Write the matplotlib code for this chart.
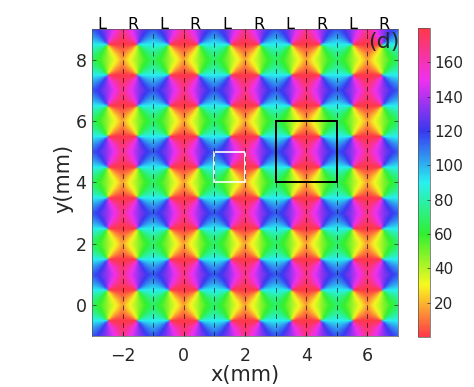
import numpy as np
import matplotlib
matplotlib.use("Agg")
import matplotlib.pyplot as plt
from matplotlib.colors import LinearSegmentedColormap, Normalize
from matplotlib.cm import ScalarMappable
from matplotlib.patches import Rectangle

# Orientation (deg) estimated over one 1 mm x 1 mm quadrant, top row to bottom row
# (y=5 down to y=4), left column to right column (x=3 to x=4), in 1/16 mm steps.
quadrant = [
    [114, 116, 118, 120, 123, 126, 129, 132, 135, 139, 143, 147, 151, 155, 160, 165, 169],
    [112, 114, 116, 118, 121, 124, 128, 131, 135, 139, 144, 148, 153, 157, 162, 166, 170],
    [110, 111, 113, 116, 119, 122, 126, 130, 135, 140, 145, 150, 155, 159, 164, 168, 171],
    [107, 108, 110, 113, 116, 120, 124, 129, 135, 141, 147, 152, 157, 162, 166, 169, 172],
    [104, 105, 107, 109, 112, 117, 122, 128, 135, 142, 149, 155, 160, 164, 168, 171, 173],
    [101, 102, 103, 105, 108, 112, 118, 126, 135, 145, 153, 160, 165, 168, 171, 173, 175],
    [ 97,  98,  99, 101, 103, 107, 112, 122, 135, 150, 160, 166, 170, 172, 174, 176, 177],
    [ 94,  94,  95,  96,  97,  99, 103, 112, 135, 160, 170, 174, 176, 177, 178, 178, 178],
    [ 90,  90,  90,  90,  90,  90,  90,  92, 100, 179, 179, 179, 179, 179, 179, 179, 179],
    [ 86,  86,  85,  84,  83,  81,  77,  68,  45,  22,  11,   7,   5,   4,   3,   3,   3],
    [ 83,  82,  81,  79,  77,  73,  68,  58,  45,  32,  22,  15,  11,   9,   7,   6,   5],
    [ 80,  78,  77,  75,  72,  68,  62,  54,  45,  36,  28,  21,  16,  13,  11,   9,   7],
    [ 77,  75,  73,  71,  68,  63,  58,  52,  45,  38,  32,  26,  21,  17,  14,  11,   9],
    [ 74,  72,  70,  68,  64,  60,  56,  51,  45,  39,  34,  29,  25,  21,  17,  14,  11],
    [ 72,  70,  68,  65,  62,  58,  54,  50,  45,  40,  36,  32,  28,  24,  20,  16,  13],
    [ 70,  68,  66,  63,  60,  57,  53,  49,  45,  41,  37,  34,  30,  26,  22,  18,  15],
    [ 69,  67,  64,  61,  58,  55,  52,  49,  45,  41,  38,  35,  32,  28,  24,  20,  17],
]
x_ticks = [-2, 0, 2, 4, 6]
y_ticks = [0, 2, 4, 6, 8]
cbar_ticks = [20, 40, 60, 80, 100, 120, 140, 160]
dash_x = [-2, -1, 0, 1, 2, 3, 4, 5, 6]
top_labels = ["L", "R", "L", "R", "L", "R", "L", "R", "L", "R"]
top_label_x = [-2.67, -1.66, -0.65, 0.38, 1.4, 2.44, 3.48, 4.5, 5.53, 6.53]
hue_stops = ["#ff3848", "#f8f820", "#30f030", "#28f0f0", "#3838f0", "#f030f0", "#ff3848"]

W, H = 474, 387
cmap = LinearSegmentedColormap.from_list("hue", hue_stops, N=256)
norm = Normalize(0, 180)
dark = "#262626"

field = np.pad(np.array(quadrant, float), ((0, 144), (0, 144)), mode="reflect")

fig = plt.figure(figsize=(W / 100, H / 100), dpi=100)
ax = fig.add_axes([92 / W, 1 - 336 / H, 306 / W, 307 / H])
ax.imshow(field, origin="lower", cmap=cmap, norm=norm, aspect="auto",
          interpolation="bilinear", interpolation_stage="rgba",
          extent=[-3 - 1 / 32, 7 + 1 / 32, -1 - 1 / 32, 9 + 1 / 32])
ax.set_xlim(-3, 7)
ax.set_ylim(-1, 9)

for x in dash_x:
    ax.plot([x, x], [-1, 9], color="black", lw=0.7, ls=(0, (5, 4)), alpha=0.6)
ax.add_patch(Rectangle((3, 4), 2, 2, fill=False, ec="black", lw=1.4))
ax.add_patch(Rectangle((1, 4), 1, 1, fill=False, ec="white", lw=1.2))

ax.set_xticks(x_ticks)
ax.set_yticks(y_ticks)
ax.set_xticklabels([str(v).replace("-", "\u2212") for v in x_ticks])
ax.tick_params(direction="in", top=True, right=True, length=3, width=0.5,
               labelsize=12.5, colors=dark, pad=4)
ax.tick_params(axis="x", pad=8)
for s in ax.spines.values():
    s.set_linewidth(0.5)
    s.set_color("#555555")

fig.text(245 / W, 1 - 375 / H, "x(mm)", fontsize=15, color=dark, ha="center", va="center")
fig.text(63 / W, 1 - 178 / H, "y(mm)", fontsize=15, color=dark, ha="center", va="center",
         rotation=90)
fig.text(384 / W, 1 - 42 / H, "(d)", fontsize=16, color=dark, ha="center", va="center")

for lab, x in zip(top_labels, top_label_x):
    ax.text(x, 1.0, lab, transform=ax.get_xaxis_transform(), fontsize=11.5,
            color="black", ha="center", va="baseline")

cax = fig.add_axes([418 / W, 1 - 337 / H, 12 / W, 309 / H])
cb = fig.colorbar(ScalarMappable(norm=norm, cmap=cmap), cax=cax, ticks=cbar_ticks)
cb.ax.tick_params(direction="in", length=2, width=0.5, labelsize=11, colors=dark, pad=3)
cb.outline.set_linewidth(0.5)
cb.outline.set_edgecolor("#555555")

fig.savefig("out.png", dpi=100)
